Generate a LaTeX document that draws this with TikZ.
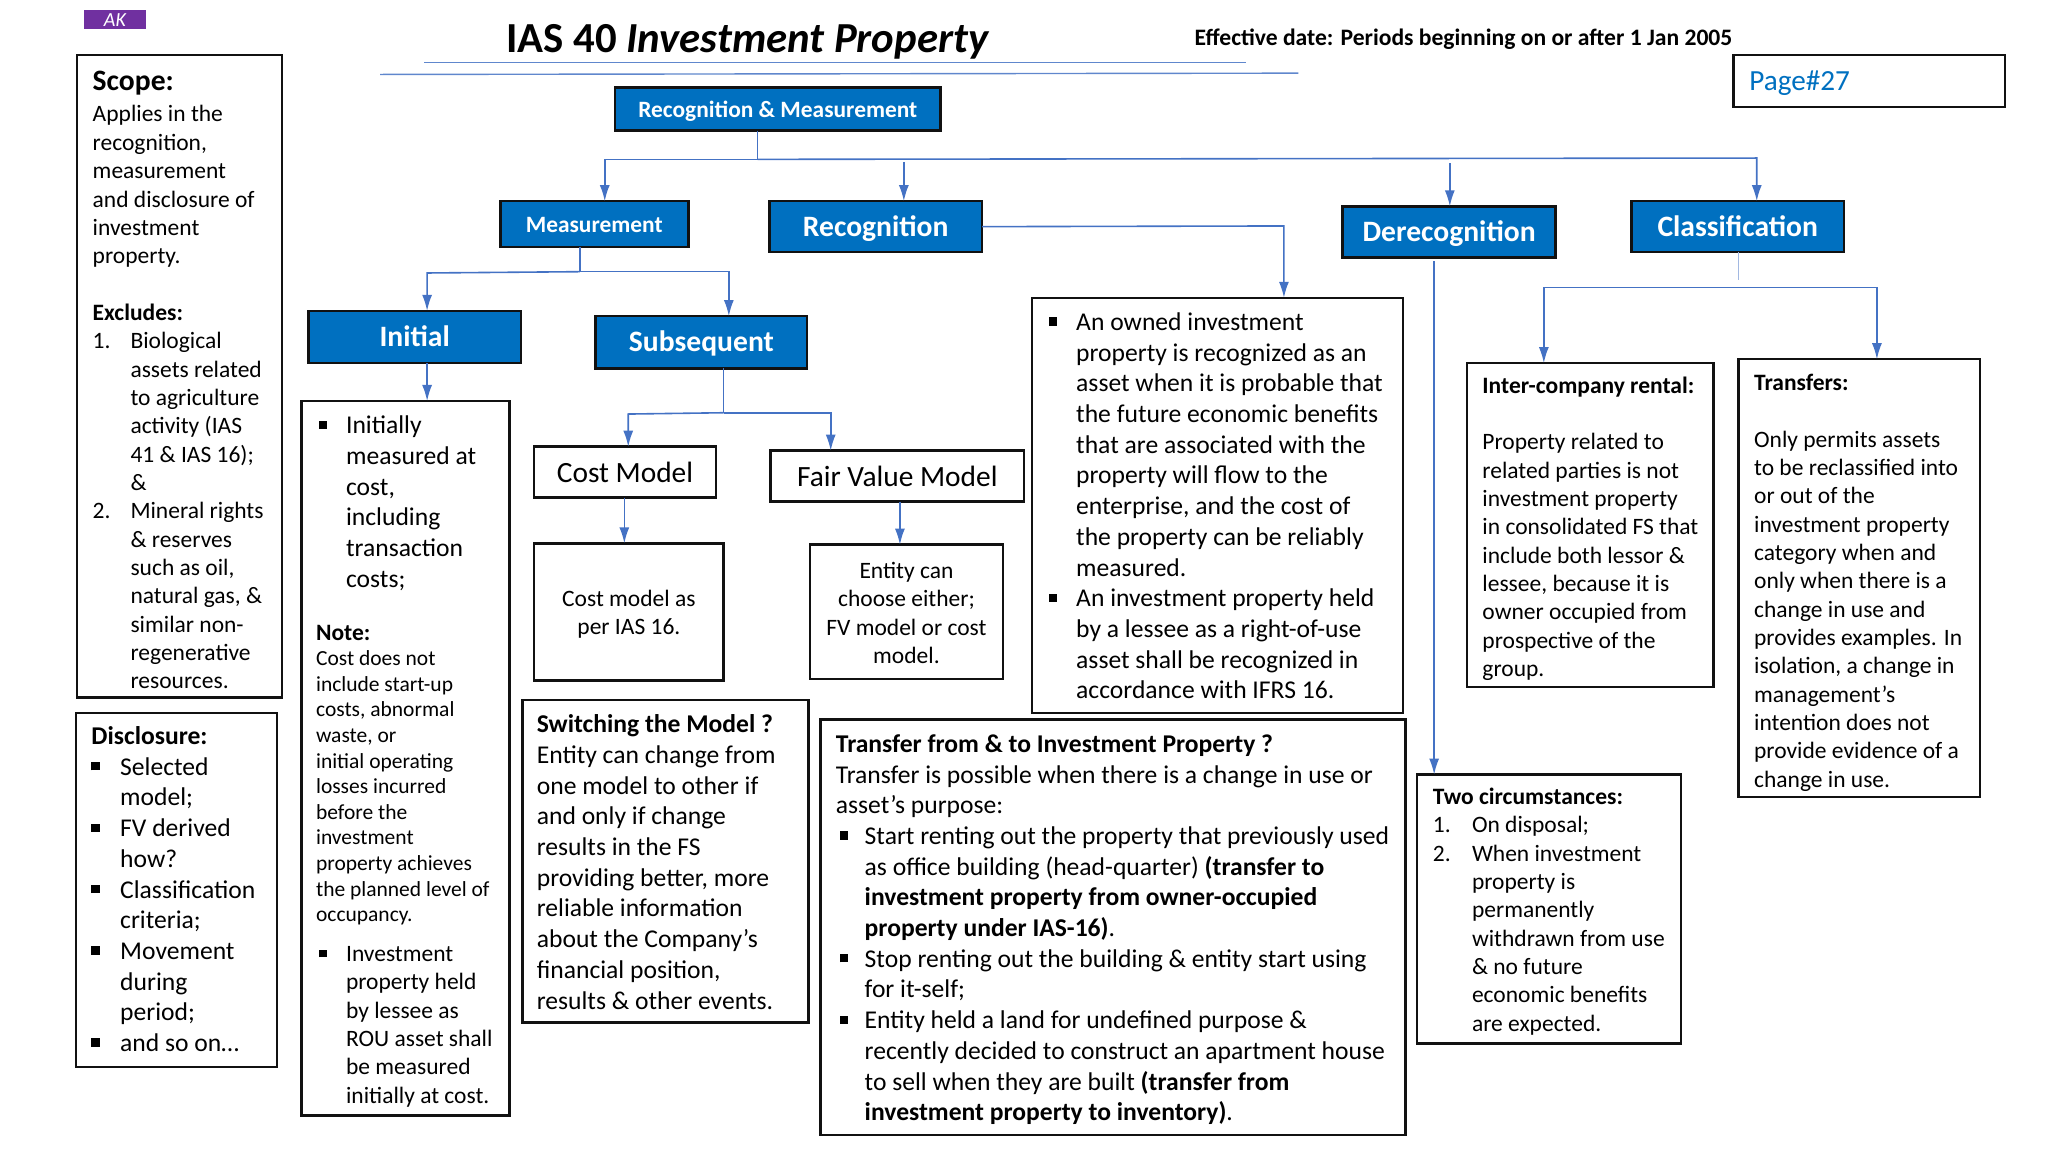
\documentclass[tikz,border=0pt]{standalone}
\usepackage{fontspec}
\setmainfont{Carlito}
\usetikzlibrary{arrows.meta}
\definecolor{bluefill}{HTML}{0070C0}
\definecolor{linkblue}{HTML}{4472C4}
\definecolor{purplelogo}{HTML}{7030A0}
\definecolor{frame}{HTML}{111111}
\newcommand{\fA}{\fontsize{11.75}{14.17}\selectfont}
\newcommand{\fB}{\fontsize{12.8}{15.35}\selectfont}
\newcommand{\fC}{\fontsize{10.75}{12.8}\selectfont}
\newcommand{\bul}{\rule[.19em]{.32em}{.32em}}
\newcommand{\itm}[2]{\par\hangindent=#2\hangafter=1\noindent\makebox[#2][l]{#1}}
\newcommand{\gapline}{\par\vspace{\baselineskip}}
% name x0 y0 x1 y1 leftpad firstbaseline content
\newcommand{\tbox}[8]{%
  \pgfmathsetlengthmacro{\bw}{(#4-#2)*0.65306}%
  \pgfmathsetlengthmacro{\bh}{(#5-#3)*0.65306}%
  \pgfmathsetlengthmacro{\bp}{#6*0.65306}%
  \pgfmathsetlengthmacro{\bg}{#7*0.65306}%
  \node[txtbox] (#1) at (#2,#3) {\parbox[t][\bh][t]{\bw}{\parindent=0pt\parskip=0pt\raggedright\let\\\newline\leftskip=\bp\relax\rightskip=0pt plus 1fil\relax\everypar{\rule{0pt}{\bg}\global\everypar{}}#8}};}
\tikzset{
  txtbox/.style={draw=frame,line width=1.25pt,anchor=north west,inner sep=0pt,outer sep=0pt,fill=white,text=black},
  headbox/.style={draw=frame,line width=1.25pt,fill=bluefill,text=white,anchor=north west,inner sep=0pt,outer sep=0pt,align=center},
  smallhead/.style={headbox,font=\bfseries\fontsize{11.7}{13}\selectfont,text height=9.5pt,text depth=1.3pt},
  bighead/.style={headbox,font=\bfseries\fontsize{14.8}{17}\selectfont,text height=12pt,text depth=2.4pt},
  modelbox/.style={draw=frame,line width=1.25pt,fill=white,text=black,anchor=north west,inner sep=0pt,outer sep=0pt,align=center},
  conn/.style={draw=linkblue,line width=0.8pt},
  arr/.style={conn,-{Latex[length=8pt,width=5pt]}},
  rulel/.style={draw=linkblue!85!white,line width=0.7pt}
}
\begin{document}
\begin{tikzpicture}[x=0.65306pt,y=-0.65306pt]
\useasboundingbox (0,0) rectangle (1568,882);
% logo
\node[fill=purplelogo,text=white,minimum width=31.3pt,minimum height=9.2pt,inner sep=0pt,outer sep=0pt,font=\itshape\fontsize{10}{10}\selectfont] (logo) at (88,15) {AK};
% title
\node[font=\bfseries\fontsize{21.4}{24}\selectfont,inner sep=0pt] (title) at (572.5,32) {IAS 40 \textit{Investment Property}};
\node[font=\bfseries\fontsize{11.8}{13}\selectfont,inner sep=0pt] (date) at (1120.5,30) {Effective date: Periods beginning on or after 1 Jan 2005};
\coordinate (ra) at (325,48); \coordinate (rb) at (954,48);
\coordinate (rc) at (291,57); \coordinate (rd) at (994,56);
\draw[rulel] (ra) -- (rb);
\draw[rulel] (rc) -- (rd);
\node[draw=frame,line width=1.25pt,anchor=north west,minimum width=135.8pt,minimum height=26.1pt,inner sep=0pt,outer sep=0pt] (page) at (1327,42) {};
\node[text=bluefill,font=\fontsize{14.6}{17}\selectfont,inner sep=0pt,anchor=west] (pagetxt) at (1339,63.5) {Page\#27};
% head boxes
\node[smallhead,minimum width=162.6pt,minimum height=21.5pt] (rm) at (471,67) {Recognition \& Measurement};
\node[smallhead,minimum width=94pt,minimum height=22.9pt] (meas) at (383,154) {Measurement};
\node[bighead,minimum width=106.4pt,minimum height=25.5pt] (recog) at (589,154) {Recognition};
\node[bighead,minimum width=106.4pt,minimum height=25.5pt] (derec) at (1028,158) {Derecognition};
\node[bighead,minimum width=106.4pt,minimum height=25.5pt] (class) at (1249,154) {Classification};
\node[bighead,minimum width=106.4pt,minimum height=26.1pt] (init) at (236,238) {Initial};
\node[bighead,minimum width=105.8pt,minimum height=26.1pt] (subs) at (456,242) {Subsequent};
\node[modelbox,minimum width=90.8pt,minimum height=25.5pt,font=\fontsize{14.7}{17}\selectfont] (cost) at (409,342) {Cost Model};
\node[modelbox,minimum width=126.7pt,minimum height=25.5pt,font=\fontsize{14.7}{17}\selectfont] (fv) at (590,345) {Fair Value Model};
% text boxes
\tbox{scope}{59}{42}{216}{534}{12}{27}{{\bfseries\fontsize{14.8}{17}\selectfont Scope:}\par\fA\rule{0pt}{12.6pt}Applies in the\\recognition,\\measurement\\and disclosure of\\investment\\property.\gapline {\bfseries Excludes:}
\itm{1.}{18.9pt}Biological\\assets related\\to agriculture\\activity (IAS\\41 \& IAS 16);\\\&
\itm{2.}{18.9pt}Mineral rights\\\& reserves\\such as oil,\\natural gas, \&\\similar non-\\regenerative\\resources.}
\tbox{discl}{58}{546}{212}{817}{12}{24}{\fB{\bfseries Disclosure:}
\itm{\bul}{14.4pt}Selected\\model;
\itm{\bul}{14.4pt}FV derived\\how?
\itm{\bul}{14.4pt}Classification\\criteria;
\itm{\bul}{14.4pt}Movement\\during\\period;
\itm{\bul}{14.4pt}and so on\ldots}
\tbox{initbox}{231}{307}{390}{854}{11}{25}{\fB
\itm{\kern1.5pt\bul}{15pt}Initially\\measured at\\cost,\\including\\transaction\\costs;\par\vspace{13.7pt}\fC{\bfseries\fA Note:}\\Cost does not\\include start-up\\costs, abnormal\\waste, or\\initial operating\\losses incurred\\before the\\investment\\property achieves\\the planned level of\\occupancy.\par\vspace{5.7pt}\fA
\itm{\kern1.5pt\bul}{15pt}Investment\\property held\\by lessee as\\ROU asset shall\\be measured\\initially at cost.}
\tbox{costtxt}{409}{416}{554}{521}{0}{48}{\fA\centering Cost model as\\per IAS 16.}
\tbox{fvtxt}{620}{417}{768}{520}{0}{26}{\fA\centering Entity can\\choose either;\\FV model or cost\\model.}
\tbox{switch}{400}{536}{619}{783}{11}{25}{\fB{\bfseries Switching the Model ?}\\Entity can change from\\one model to other if\\and only if change\\results in the FS\\providing better, more\\reliable information\\about the Company’s\\financial position,\\results \& other events.}
\tbox{transfer}{628}{551}{1076}{869}{12}{25}{\fB{\bfseries Transfer from \& to Investment Property ?}\\Transfer is possible when there is a change in use or\\asset’s purpose:
\itm{\kern2pt\bul}{14.4pt}Start renting out the property that previously used\\as office building (head-quarter) {\bfseries (transfer to\\investment property from owner-occupied\\property under IAS-16)}.
\itm{\kern2pt\bul}{14.4pt}Stop renting out the building \& entity start using\\for it-self;
\itm{\kern2pt\bul}{14.4pt}Entity held a land for undefined purpose \&\\recently decided to construct an apartment house\\to sell when they are built {\bfseries (transfer from\\investment property to inventory)}.}
\tbox{owned}{790}{228}{1074}{546}{13}{25}{\fB
\itm{\bul}{13.7pt}An owned investment\\property is recognized as an\\asset when it is probable that\\the future economic benefits\\that are associated with the\\property will flow to the\\enterprise, and the cost of\\the property can be reliably\\measured.
\itm{\bul}{13.7pt}An investment property held\\by a lessee as a right-of-use\\asset shall be recognized in\\accordance with IFRS 16.}
\tbox{two}{1085}{593}{1287}{799}{12}{23}{\fA{\bfseries Two circumstances:}
\itm{1.}{19.6pt}On disposal;
\itm{2.}{19.6pt}When investment\\property is\\permanently\\withdrawn from use\\\& no future\\economic benefits\\are expected.}
\tbox{inter}{1123}{278}{1312}{526}{12}{23}{\fA{\bfseries Inter-company rental:}\gapline Property related to\\related parties is not\\investment property\\in consolidated FS that\\include both lessor \&\\lessee, because it is\\owner occupied from\\prospective of the\\group.}
\tbox{trans}{1331}{275}{1516}{610}{12}{24}{\fA{\bfseries Transfers:}\gapline Only permits assets\\to be reclassified into\\or out of the\\investment property\\category when and\\only when there is a\\change in use and\\provides examples. In\\isolation, a change in\\management’s\\intention does not\\provide evidence of a\\change in use.}
% connectors
\coordinate (topj) at (580,122);
\coordinate (topl) at (463,122);
\coordinate (topr) at (1345,121);
\coordinate (recs) at (692,124);
\coordinate (ders) at (1110,125);
\draw[conn] (rm.south -| topj) -- (topj);
\draw[arr] (topj) -- (topl) -- (topl |- meas.north);
\draw[arr] (topj) -- (topr) -- (topr |- class.north);
\draw[arr] (recs) -- (recs |- recog.north);
\draw[arr] (ders) -- (ders |- derec.north);
\coordinate (mj) at (444,208);
\coordinate (ml) at (327,209);
\coordinate (mr) at (558,208);
\draw[conn] (meas.south -| mj) -- (mj);
\draw[arr] (mj) -- (ml) -- (ml |- init.north);
\draw[arr] (mj) -- (mr) -- (mr |- subs.north);
\draw[arr] (init.south -| ml) -- (ml |- initbox.north);
\coordinate (sj) at (554,316);
\coordinate (sl) at (481,317);
\coordinate (sr) at (636,316);
\draw[conn] (subs.south -| sj) -- (sj);
\draw[arr] (sj) -- (sl) -- (sl |- cost.north);
\draw[arr] (sj) -- (sr) -- (sr |- fv.north);
\coordinate (ca) at (478,381);
\coordinate (fa) at (689,384);
\draw[arr] (cost.south -| ca) -- (ca |- costtxt.north);
\draw[arr] (fv.south -| fa) -- (fa |- fvtxt.north);
\coordinate (rj) at (983,173);
\draw[arr] (recog.east) -- (rj) -- (rj |- owned.north);
\coordinate (ds) at (1098,200);
\draw[arr] (ds) -- (ds |- two.north);
\coordinate (cj) at (1331,214);
\coordinate (cb) at (1331,220);
\coordinate (cl) at (1182,220);
\coordinate (cr) at (1437,220);
\draw[conn,draw=linkblue!50!white] (class.south -| cj) -- (cj);
\draw[arr] (cb) -- (cl) -- (cl |- inter.north);
\draw[arr] (cb) -- (cr) -- (cr |- trans.north);
\end{tikzpicture}
\end{document}
